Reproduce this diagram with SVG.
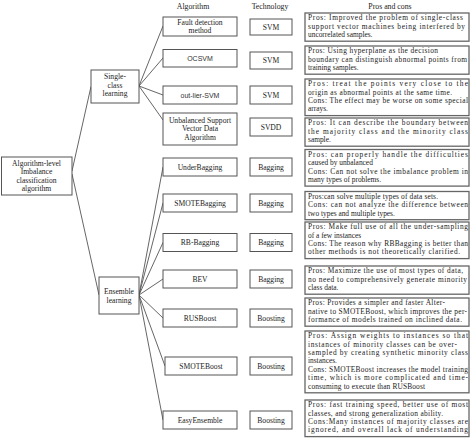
<svg xmlns="http://www.w3.org/2000/svg" width="474" height="444" viewBox="0 0 474 444">
<style>
.bg{fill:#fff}
.box{fill:#fff;stroke:#555;stroke-width:1}
.pbox{fill:#fff;stroke:#666;stroke-width:1.3}
.t{font-family:"Liberation Serif",serif;font-size:7.6px;fill:#222}
.c{text-anchor:middle}
.s{font-family:"Liberation Sans",sans-serif;font-size:7px;fill:#333}
.p{font-family:"Liberation Serif",serif;font-size:7.4px;fill:#222}
.h{font-family:"Liberation Serif",serif;font-size:7.8px;fill:#222;text-anchor:middle}
.ln{stroke:#555;stroke-width:0.9;fill:none}
</style>
<rect class="bg" x="0" y="0" width="474" height="444"/>
<g id="headers">
<text class="h" x="193" y="9">Algorithm</text>
<text class="h" x="270" y="9">Technology</text>
<text class="h" x="390" y="9">Pros and cons</text>
</g>
<g id="connectors">
<line class="ln" x1="72" y1="171" x2="91" y2="86.5"/>
<line class="ln" x1="72" y1="174" x2="99" y2="295"/>
<line class="ln" x1="139" y1="86" x2="163" y2="26"/>
<line class="ln" x1="139" y1="86" x2="163" y2="58"/>
<line class="ln" x1="139" y1="86" x2="163" y2="95"/>
<line class="ln" x1="139" y1="86" x2="163" y2="120"/>
<line class="ln" x1="139" y1="295" x2="163" y2="167"/>
<line class="ln" x1="139" y1="295" x2="163" y2="203"/>
<line class="ln" x1="139" y1="295" x2="163" y2="242.5"/>
<line class="ln" x1="139" y1="295" x2="163" y2="279"/>
<line class="ln" x1="139" y1="295" x2="163" y2="318"/>
<line class="ln" x1="139" y1="295" x2="165" y2="366"/>
<line class="ln" x1="139" y1="295" x2="163" y2="420"/>
</g>
<g id="root">
<rect class="box" x="1.5" y="157" width="70.5" height="38"/>
<text class="t c" x="36.5" y="165.5">Algorithm-level</text>
<text class="t c" x="36.5" y="174">Imbalance</text>
<text class="t c" x="36.5" y="182.5">classification</text>
<text class="t c" x="36.5" y="191">algorithm</text>
</g>
<g id="single-class">
<rect class="box" x="91" y="70" width="48" height="33"/>
<text class="t c" x="115" y="79">Single-</text>
<text class="t c" x="115" y="87.5">class</text>
<text class="t c" x="115" y="96">learning</text>
</g>
<g id="ensemble">
<rect class="box" x="99" y="277" width="40" height="37"/>
<text class="t c" x="119" y="294">Ensemble</text>
<text class="t c" x="119" y="303">learning</text>
</g>
<g id="alg-fault">
<rect class="box" x="163" y="17" width="74" height="19"/>
<text class="t c" x="200" y="24.5">Fault detection</text>
<text class="t c" x="200" y="33">method</text>
</g>
<g id="alg-ocsvm">
<rect class="box" x="163" y="49.5" width="74" height="17.5"/>
<text class="s c" x="200" y="60.5">OCSVM</text>
</g>
<g id="alg-outlier">
<rect class="box" x="163" y="86" width="74" height="18"/>
<text class="s c" x="200" y="97.5">out-lier-SVM</text>
</g>
<g id="alg-unbalanced">
<rect class="box" x="163" y="113" width="74" height="32"/>
<text class="t c" x="200" y="122.5">Unbalanced Support</text>
<text class="t c" x="200" y="131.3">Vector Data</text>
<text class="t c" x="200" y="140">Algorithm</text>
</g>
<g id="alg-underbagging">
<rect class="box" x="163" y="158" width="74" height="18"/>
<text class="t c" x="200" y="169.5">UnderBagging</text>
</g>
<g id="alg-smotebagging">
<rect class="box" x="163" y="194" width="74" height="18"/>
<text class="t c" x="200" y="205.5">SMOTEBagging</text>
</g>
<g id="alg-rbbagging">
<rect class="box" x="163" y="233.5" width="74" height="18"/>
<text class="t c" x="200" y="245">RB-Bagging</text>
</g>
<g id="alg-bev">
<rect class="box" x="163" y="270" width="74" height="18"/>
<text class="t c" x="200" y="281.5">BEV</text>
</g>
<g id="alg-rusboost">
<rect class="box" x="163" y="309" width="74" height="18"/>
<text class="t c" x="200" y="320.5">RUSBoost</text>
</g>
<g id="alg-smoteboost">
<rect class="box" x="165" y="357" width="72" height="18"/>
<text class="t c" x="201" y="368.5">SMOTEBoost</text>
</g>
<g id="alg-easyensemble">
<rect class="box" x="163" y="411" width="74" height="18"/>
<text class="t c" x="200" y="422.5">EasyEnsemble</text>
</g>
<g id="tech">
<rect class="box" x="250" y="19" width="42" height="16"/><text class="t c" x="271" y="29.5">SVM</text>
<rect class="box" x="250" y="52" width="42" height="17"/><text class="t c" x="271" y="63">SVM</text>
<rect class="box" x="250" y="86" width="42" height="18"/><text class="t c" x="271" y="97.5">SVM</text>
<rect class="box" x="250" y="118" width="42" height="18"/><text class="t c" x="271" y="129.5">SVDD</text>
<rect class="box" x="250" y="158" width="42" height="18"/><text class="t c" x="271" y="169.5">Bagging</text>
<rect class="box" x="250" y="194" width="42" height="18"/><text class="t c" x="271" y="205.5">Bagging</text>
<rect class="box" x="250" y="233.5" width="42" height="18"/><text class="t c" x="271" y="245">Bagging</text>
<rect class="box" x="250" y="270" width="42" height="18"/><text class="t c" x="271" y="281.5">Bagging</text>
<rect class="box" x="250" y="309" width="42" height="18"/><text class="t c" x="271" y="320.5">Boosting</text>
<rect class="box" x="250" y="357" width="42" height="18"/><text class="t c" x="271" y="368.5">Boosting</text>
<rect class="box" x="250" y="411" width="42" height="18"/><text class="t c" x="271" y="422.5">Boosting</text>
</g>
<g id="pros1">
<rect class="pbox" x="305" y="13" width="164" height="28.2"/>
<text class="p" x="308" y="20.2" textLength="155" lengthAdjust="spacing">Pros: Improved the problem of single-class</text>
<text class="p" x="308" y="28.6" textLength="157" lengthAdjust="spacing">support vector machines being interfered by</text>
<text class="p" x="308" y="37">uncorrelated samples.</text>
</g>
<g id="pros2">
<rect class="pbox" x="305" y="46" width="164" height="28.2"/>
<text class="p" x="308" y="53.2" textLength="130" lengthAdjust="spacing">Pros: Using hyperplane as the decision</text>
<text class="p" x="308" y="61.6" textLength="159" lengthAdjust="spacing">boundary can distinguish abnormal points from</text>
<text class="p" x="308" y="70">training samples.</text>
</g>
<g id="pros3">
<rect class="pbox" x="305" y="79" width="164" height="36.6"/>
<text class="p" x="308" y="86.2" textLength="160" lengthAdjust="spacing">Pros: treat the points very close to the</text>
<text class="p" x="308" y="94.6" textLength="144" lengthAdjust="spacing">origin as abnormal points at the same time.</text>
<text class="p" x="308" y="103" textLength="160" lengthAdjust="spacing">Cons: The effect may be worse on some special</text>
<text class="p" x="308" y="111.4">arrays.</text>
</g>
<g id="pros4">
<rect class="pbox" x="305" y="118" width="164" height="28.2"/>
<text class="p" x="308" y="125.2" textLength="160" lengthAdjust="spacing">Pros: It can describe the boundary between</text>
<text class="p" x="308" y="133.6" textLength="160" lengthAdjust="spacing">the majority class and the minority class</text>
<text class="p" x="308" y="142">sample.</text>
</g>
<g id="pros5">
<rect class="pbox" x="305" y="149.5" width="164" height="36.6"/>
<text class="p" x="308" y="156.7" textLength="160" lengthAdjust="spacing">Pros: can properly handle the difficulties</text>
<text class="p" x="308" y="165.1">caused by unbalanced</text>
<text class="p" x="308" y="173.5" textLength="160" lengthAdjust="spacing">Cons: Can not solve the imbalance problem in</text>
<text class="p" x="308" y="181.9">many types of problems.</text>
</g>
<g id="pros6">
<rect class="pbox" x="305" y="191.5" width="164" height="28.2"/>
<text class="p" x="308" y="198.7" textLength="130" lengthAdjust="spacing">Pros:can solve multiple types of data sets.</text>
<text class="p" x="308" y="207.1" textLength="160" lengthAdjust="spacing">Cons: can not analyze the difference between</text>
<text class="p" x="308" y="215.5">two types and multiple types.</text>
</g>
<g id="pros7">
<rect class="pbox" x="305" y="222" width="164" height="36.6"/>
<text class="p" x="308" y="229.2" textLength="160" lengthAdjust="spacing">Pros: Make full use of all the under-sampling</text>
<text class="p" x="308" y="237.6">of a few instances</text>
<text class="p" x="308" y="246" textLength="160" lengthAdjust="spacing">Cons: The reason why RBBagging is better than</text>
<text class="p" x="308" y="254.4" textLength="152" lengthAdjust="spacing">other methods is not theoretically clarified.</text>
</g>
<g id="pros8">
<rect class="pbox" x="305" y="266" width="164" height="28.2"/>
<text class="p" x="308" y="273.2" textLength="155" lengthAdjust="spacing">Pros: Maximize the use of most types of data,</text>
<text class="p" x="308" y="281.6" textLength="159" lengthAdjust="spacing">no need to comprehensively generate minority</text>
<text class="p" x="308" y="290">class data.</text>
</g>
<g id="pros9">
<rect class="pbox" x="305" y="298" width="164" height="28.2"/>
<text class="p" x="308" y="305.2" textLength="137" lengthAdjust="spacing">Pros: Provides a simpler and faster Alter-</text>
<text class="p" x="308" y="313.6" textLength="159" lengthAdjust="spacing">native to SMOTEBoost, which improves the per-</text>
<text class="p" x="308" y="322" textLength="154" lengthAdjust="spacing">formance of models trained on inclined data.</text>
</g>
<g id="pros10">
<rect class="pbox" x="305" y="331" width="164" height="61.8"/>
<text class="p" x="308" y="338.2" textLength="160" lengthAdjust="spacing">Pros: Assign weights to instances so that</text>
<text class="p" x="308" y="346.6" textLength="149" lengthAdjust="spacing">instances of minority classes can be over-</text>
<text class="p" x="308" y="355" textLength="160" lengthAdjust="spacing">sampled by creating synthetic minority class</text>
<text class="p" x="308" y="363.4">instances.</text>
<text class="p" x="308" y="371.8" textLength="160" lengthAdjust="spacing">Cons: SMOTEBoost increases the model training</text>
<text class="p" x="308" y="380.2" textLength="160" lengthAdjust="spacing">time, which is more complicated and time-</text>
<text class="p" x="308" y="388.6" textLength="117" lengthAdjust="spacing">consuming to execute than RUSBoost</text>
</g>
<g id="pros11">
<rect class="pbox" x="305" y="400" width="164" height="36.6"/>
<text class="p" x="308" y="407.2" textLength="160" lengthAdjust="spacing">Pros: fast training speed, better use of most</text>
<text class="p" x="308" y="415.6" textLength="135" lengthAdjust="spacing">classes, and strong generalization ability.</text>
<text class="p" x="308" y="424" textLength="160" lengthAdjust="spacing">Cons:Many instances of majority classes are</text>
<text class="p" x="308" y="432.4" textLength="160" lengthAdjust="spacing">ignored, and overall lack of understanding</text>
</g>
</svg>
